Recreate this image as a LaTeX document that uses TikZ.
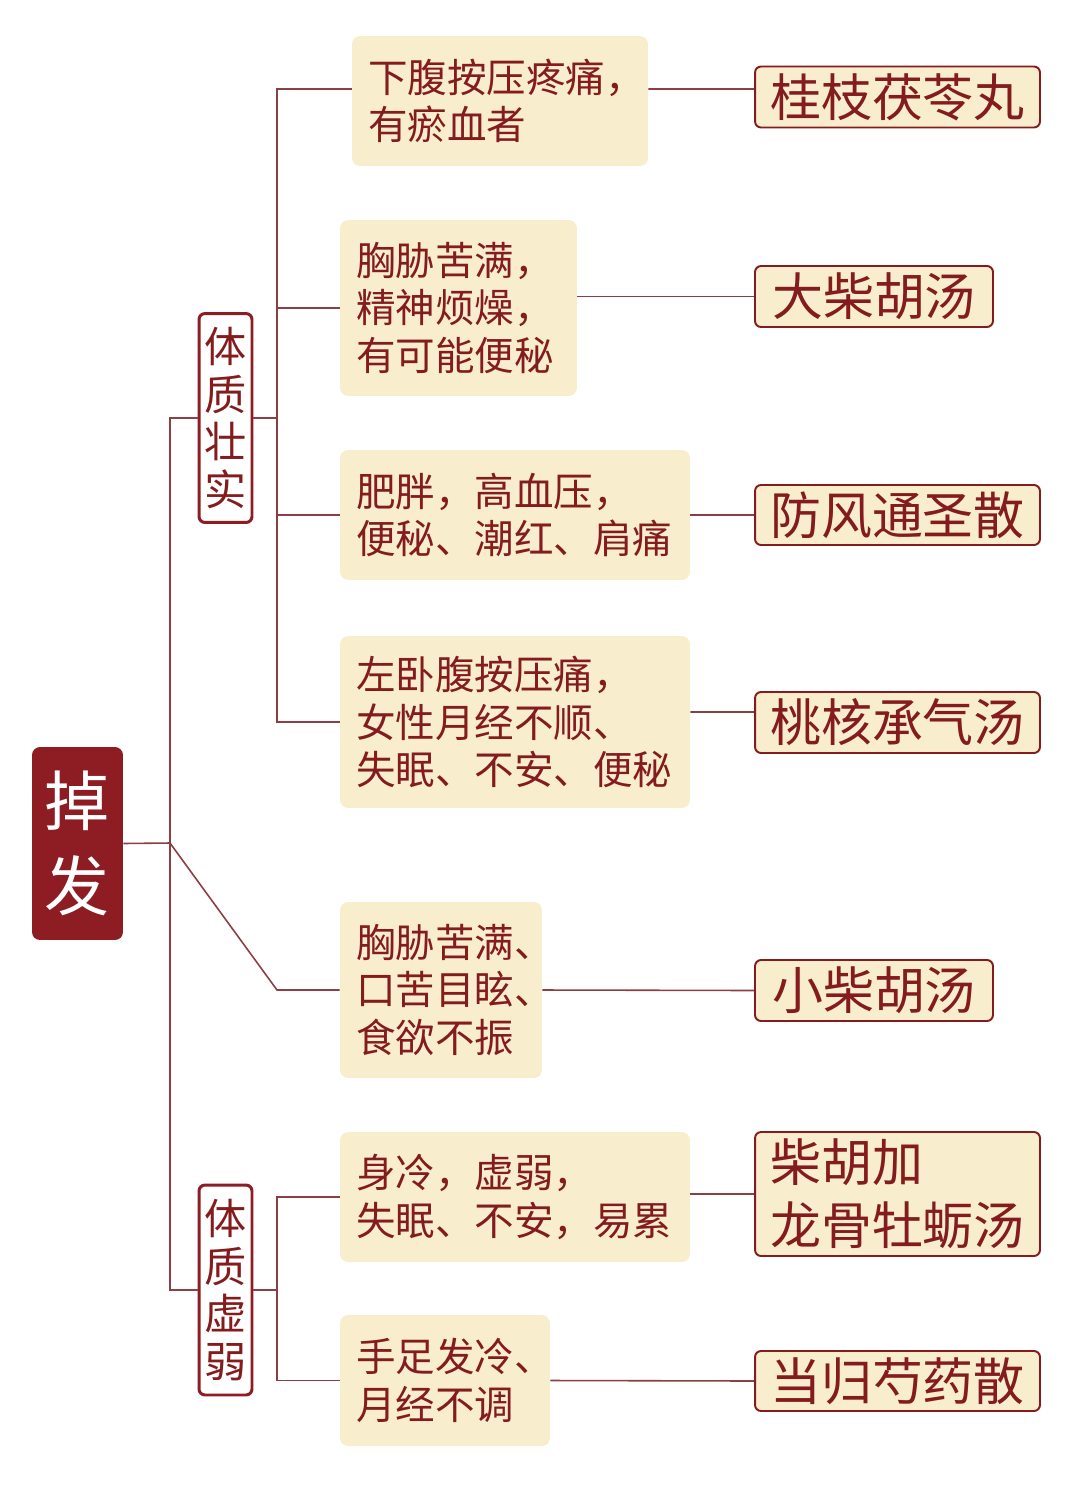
\documentclass[tikz,border=0pt]{standalone}
\usepackage{fontspec}
\newfontfamily\cjk{Noto Sans CJK SC}
\definecolor{linered}{RGB}{140,62,66}
\definecolor{txtred}{RGB}{132,28,30}
\definecolor{rootred}{RGB}{142,29,35}
\definecolor{beige}{RGB}{248,238,206}
\begin{document}
\begin{tikzpicture}[x=0.02cm, y=-0.02cm,
  conn/.style={draw=linered, line width=0.9pt},
  rootbox/.style={fill=rootred, rounded corners=0.16cm, text=white, align=center, minimum width=1.82cm, minimum height=3.86cm, font=\cjk\fontsize{37}{48}\selectfont},
  catbox/.style={draw=rootred, line width=1.7pt, fill=white, rounded corners=0.12cm, text=txtred, align=center, inner sep=0pt, minimum width=1.06cm, font=\cjk\fontsize{24}{27}\selectfont},
  symbox/.style={fill=beige, rounded corners=0.16cm, text=txtred, align=left, inner xsep=0.32cm, font=\cjk\fontsize{22.5}{27}\selectfont},
  resbox/.style={draw=txtred, line width=1.1pt, fill=beige, rounded corners=0.12cm, text=txtred, align=left, minimum width=5.7cm, font=\cjk\fontsize{29}{36}\selectfont}]
\useasboundingbox (0,0) rectangle (1080,1485);
% root and the two groups
\node[rootbox] (root) at (77.5,843.5) {掉\\发};
\node[catbox, minimum height=4.18cm] (cat1) at (225.5,418) {体\\质\\壮\\实};
\node[catbox, minimum height=4.2cm] (cat2) at (225.5,1290) {体\\质\\虚\\弱};
% symptoms
\node[symbox, text width=5.28cm, minimum height=2.6cm] (s1) at (500,101) {下腹按压疼痛，\\有瘀血者};
\node[symbox, text width=4.1cm, minimum height=3.52cm] (s2) at (458.5,308) {胸胁苦满，\\精神烦燥，\\有可能便秘};
\node[symbox, text width=6.36cm, minimum height=2.6cm] (s3) at (515,515) {肥胖，高血压，\\便秘、潮红、肩痛};
\node[symbox, text width=6.36cm, minimum height=3.44cm] (s4) at (515,722) {左卧腹按压痛，\\女性月经不顺、\\失眠、不安、便秘};
\node[symbox, text width=3.4cm, minimum height=3.52cm] (s5) at (441,990) {胸胁苦满、\\口苦目眩、\\食欲不振};
\node[symbox, text width=6.36cm, minimum height=2.6cm] (s6) at (515,1197) {身冷，虚弱，\\失眠、不安，易累};
\node[symbox, text width=3.56cm, minimum height=2.62cm] (s7) at (445,1380.5) {手足发冷、\\月经不调};
% prescriptions
\node[resbox, minimum height=1.22cm] (r1) at (897.5,97) {桂枝茯苓丸};
\node[resbox, minimum width=4.76cm, minimum height=1.22cm] (r2) at (874,296.5) {大柴胡汤};
\node[resbox, minimum height=1.2cm] (r3) at (897.5,515) {防风通圣散};
\node[resbox, minimum height=1.22cm] (r4) at (897.5,722.5) {桃核承气汤};
\node[resbox, minimum width=4.76cm, minimum height=1.22cm] (r5) at (874,990.5) {小柴胡汤};
\node[resbox, minimum height=2.48cm] (r6) at (897.5,1194) {柴胡加\\龙骨牡蛎汤};
\node[resbox, minimum height=1.2cm] (r7) at (897.5,1381) {当归芍药散};
% junctions
\coordinate (j0) at (170,843);
\coordinate (j1) at (277,418);
\coordinate (j2) at (277,1290);
\coordinate (j3) at (277,990);
\draw[conn] (root.east) -- (j0);
\draw[conn] (j0) |- (cat1.west);
\draw[conn] (j0) |- (cat2.west);
\draw[conn] (j0) -- (j3) -- (s5.west);
\draw[conn] (cat1.east) -- (j1);
\draw[conn] (j1) |- ([yshift=0.24cm]s1.west);
\draw[conn] (j1) |- (s2.west);
\draw[conn] (j1) |- (s3.west);
\draw[conn] (j1) |- (s4.west);
\draw[conn] (cat2.east) -- (j2);
\draw[conn] (j2) |- (s6.west);
\draw[conn] (j2) |- (s7.west);
\draw[conn] ([yshift=0.24cm]s1.east) -- ([yshift=0.16cm]r1.west);
\draw[conn] (s2.east |- r2.west) -- (r2.west);
\draw[conn] (s3.east) -- (r3.west);
\draw[conn] ([yshift=0.2cm]s4.east) -- ([yshift=0.21cm]r4.west);
\draw[conn] (s5.east) -- (r5.west);
\draw[conn] (s6.east |- r6.west) -- (r6.west);
\draw[conn] (s7.east) -- (r7.west);
\end{tikzpicture}
\end{document}
